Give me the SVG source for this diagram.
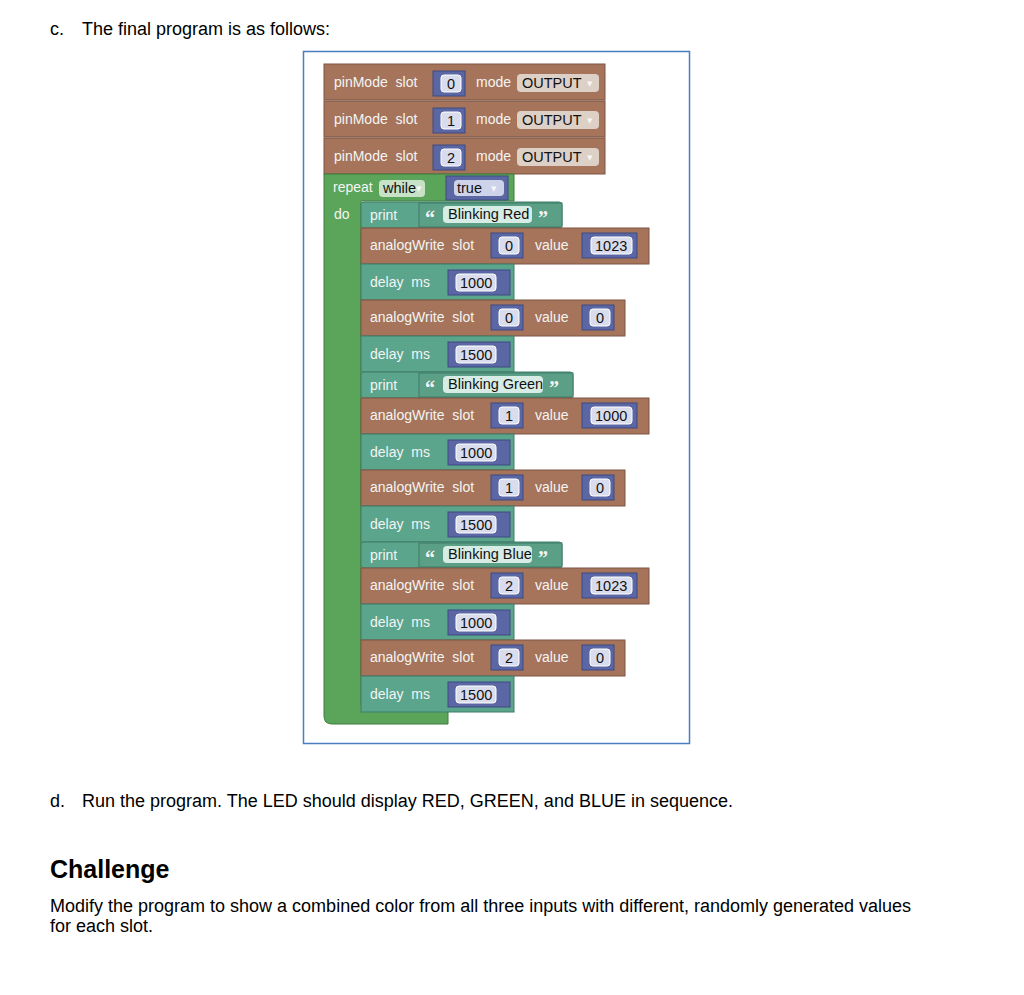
<svg xmlns="http://www.w3.org/2000/svg" width="1024" height="995" viewBox="0 0 1024 995">
<style>
.doc{font-family:"Liberation Sans",Arial,sans-serif;font-size:18px;fill:#000}
.h{font-family:"Liberation Sans",Arial,sans-serif;font-size:25px;font-weight:bold;fill:#000}
.b{font-family:"Liberation Sans",Arial,sans-serif;font-size:14px;fill:#f4f4f4;word-spacing:4px}
.q{font-family:"Liberation Serif",serif;font-size:20px;font-weight:bold;fill:#f4f4f4}
.f{font-family:"Liberation Sans",Arial,sans-serif;font-size:14.5px;fill:#111}
.br{fill:#a5745b;stroke:#7d5544;stroke-width:1}
.tl{fill:#5ba58c;stroke:#3f7d68;stroke-width:1}
.tl2{fill:#5a9f86;stroke:#3f7d68;stroke-width:1}
.gr{fill:#5ba55b;stroke:#3f7d3f;stroke-width:1}
.bl{fill:#5b67a5;stroke:#3f4a80;stroke-width:1}
.fd{fill:#d9dcec;stroke:#ffffff;stroke-width:1}
.fw{fill:#ddd0c6}
.fg{fill:#c8e2c8}
.fb{fill:#ced3ea}
.ft{fill:#d7ece4}
.tri{fill:#ffffff;opacity:.8;font-family:"DejaVu Sans",sans-serif;font-size:7px}
</style>
<rect width="1024" height="995" fill="#fff"/>
<text class="doc" x="50" y="35">c.</text><text class="doc" x="82" y="35">The final program is as follows:</text>
<rect x="303.5" y="51.5" width="386" height="692" fill="#fff" stroke="#4a7cc0" stroke-width="1.5"/>

<g id="pinmodes">
<g id="pin0"><rect class="br" x="324" y="64" width="281" height="36"/>
<text class="b" x="334" y="87">pinMode slot</text><rect class="bl" x="433" y="71" width="32" height="25"/><rect class="fd" x="441" y="75" width="20" height="17" rx="3"/><text class="f" x="447" y="89">0</text>
<text class="b" x="476" y="87">mode</text><rect class="fw" x="517" y="74" width="82" height="18" rx="4"/><text class="f" x="522" y="88">OUTPUT</text><text class="tri" x="587" y="86">▼</text></g>
<g id="pin1"><rect class="br" x="324" y="101" width="281" height="36"/>
<text class="b" x="334" y="124">pinMode slot</text><rect class="bl" x="433" y="108" width="32" height="25"/><rect class="fd" x="441" y="112" width="20" height="17" rx="3"/><text class="f" x="447" y="126">1</text>
<text class="b" x="476" y="124">mode</text><rect class="fw" x="517" y="111" width="82" height="18" rx="4"/><text class="f" x="522" y="125">OUTPUT</text><text class="tri" x="587" y="123">▼</text></g>
<g id="pin2"><rect class="br" x="324" y="138" width="281" height="36"/>
<text class="b" x="334" y="161">pinMode slot</text><rect class="bl" x="433" y="145" width="32" height="25"/><rect class="fd" x="441" y="149" width="20" height="17" rx="3"/><text class="f" x="447" y="163">2</text>
<text class="b" x="476" y="161">mode</text><rect class="fw" x="517" y="148" width="82" height="18" rx="4"/><text class="f" x="522" y="162">OUTPUT</text><text class="tri" x="587" y="160">▼</text></g>
</g>

<g id="repeat">
<path class="gr" d="M324 174 H514 V201 H361 V705 H448 V724 H332 Q324 724 324 716 Z"/>
<text class="b" x="333" y="192">repeat</text>
<rect class="fg" x="379" y="180" width="46" height="17" rx="4"/><text class="f" x="383" y="193">while</text><text class="tri" x="416" y="191">▼</text>
<rect class="bl" x="446" y="176" width="62" height="24"/><rect class="fb" x="454" y="180" width="50" height="16" rx="4"/><text class="f" x="457" y="193">true</text><text class="tri" x="491" y="191">▼</text>
<text class="b" x="334" y="219">do</text>
</g>

<g id="body">
<g id="print-red"><rect class="tl" x="361" y="202" width="201" height="26" rx="3"/><text class="b" x="370" y="220">print</text><rect class="tl2" x="419" y="203" width="143" height="24"/><text class="q" x="425" y="225">“</text><rect class="ft" x="443" y="206" width="89" height="17" rx="4"/><text class="f" x="448" y="219">Blinking Red</text><text class="q" x="538" y="225">”</text></g>

<g id="aw1"><rect class="br" x="361" y="228" width="288" height="36"/><text class="b" x="370" y="250">analogWrite slot</text><rect class="bl" x="491" y="233" width="32" height="25"/><rect class="fd" x="499" y="237" width="20" height="17" rx="3"/><text class="f" x="505" y="251">0</text><text class="b" x="535" y="250">value</text><rect class="bl" x="582" y="233" width="55" height="25"/><rect class="fd" x="591" y="237" width="41" height="17" rx="3"/><text class="f" x="595" y="251">1023</text></g>
<g id="d1"><rect class="tl" x="361" y="264" width="153" height="36"/><text class="b" x="370" y="287">delay ms</text><rect class="bl" x="448" y="270" width="62" height="25"/><rect class="fd" x="456" y="274" width="40" height="17" rx="3"/><text class="f" x="460" y="288">1000</text></g>
<g id="aw2"><rect class="br" x="361" y="300" width="264" height="36"/><text class="b" x="370" y="322">analogWrite slot</text><rect class="bl" x="491" y="305" width="32" height="25"/><rect class="fd" x="499" y="309" width="20" height="17" rx="3"/><text class="f" x="505" y="323">0</text><text class="b" x="535" y="322">value</text><rect class="bl" x="582" y="305" width="32" height="25"/><rect class="fd" x="590" y="309" width="20" height="17" rx="3"/><text class="f" x="596" y="323">0</text></g>
<g id="d2"><rect class="tl" x="361" y="336" width="153" height="36"/><text class="b" x="370" y="359">delay ms</text><rect class="bl" x="448" y="342" width="62" height="25"/><rect class="fd" x="456" y="346" width="40" height="17" rx="3"/><text class="f" x="460" y="360">1500</text></g>

<g id="print-green"><rect class="tl" x="361" y="372" width="212" height="26" rx="3"/><text class="b" x="370" y="390">print</text><rect class="tl2" x="419" y="373" width="154" height="24"/><text class="q" x="425" y="395">“</text><rect class="ft" x="443" y="376" width="100" height="17" rx="4"/><text class="f" x="448" y="389">Blinking Green</text><text class="q" x="549" y="395">”</text></g>

<g id="aw3"><rect class="br" x="361" y="398" width="288" height="36"/><text class="b" x="370" y="420">analogWrite slot</text><rect class="bl" x="491" y="403" width="32" height="25"/><rect class="fd" x="499" y="407" width="20" height="17" rx="3"/><text class="f" x="505" y="421">1</text><text class="b" x="535" y="420">value</text><rect class="bl" x="582" y="403" width="55" height="25"/><rect class="fd" x="591" y="407" width="41" height="17" rx="3"/><text class="f" x="595" y="421">1000</text></g>
<g id="d3"><rect class="tl" x="361" y="434" width="153" height="36"/><text class="b" x="370" y="457">delay ms</text><rect class="bl" x="448" y="440" width="62" height="25"/><rect class="fd" x="456" y="444" width="40" height="17" rx="3"/><text class="f" x="460" y="458">1000</text></g>
<g id="aw4"><rect class="br" x="361" y="470" width="264" height="36"/><text class="b" x="370" y="492">analogWrite slot</text><rect class="bl" x="491" y="475" width="32" height="25"/><rect class="fd" x="499" y="479" width="20" height="17" rx="3"/><text class="f" x="505" y="493">1</text><text class="b" x="535" y="492">value</text><rect class="bl" x="582" y="475" width="32" height="25"/><rect class="fd" x="590" y="479" width="20" height="17" rx="3"/><text class="f" x="596" y="493">0</text></g>
<g id="d4"><rect class="tl" x="361" y="506" width="153" height="36"/><text class="b" x="370" y="529">delay ms</text><rect class="bl" x="448" y="512" width="62" height="25"/><rect class="fd" x="456" y="516" width="40" height="17" rx="3"/><text class="f" x="460" y="530">1500</text></g>

<g id="print-blue"><rect class="tl" x="361" y="542" width="201" height="26" rx="3"/><text class="b" x="370" y="560">print</text><rect class="tl2" x="419" y="543" width="143" height="24"/><text class="q" x="425" y="565">“</text><rect class="ft" x="443" y="546" width="89" height="17" rx="4"/><text class="f" x="448" y="559">Blinking Blue</text><text class="q" x="538" y="565">”</text></g>

<g id="aw5"><rect class="br" x="361" y="568" width="288" height="36"/><text class="b" x="370" y="590">analogWrite slot</text><rect class="bl" x="491" y="573" width="32" height="25"/><rect class="fd" x="499" y="577" width="20" height="17" rx="3"/><text class="f" x="505" y="591">2</text><text class="b" x="535" y="590">value</text><rect class="bl" x="582" y="573" width="55" height="25"/><rect class="fd" x="591" y="577" width="41" height="17" rx="3"/><text class="f" x="595" y="591">1023</text></g>
<g id="d5"><rect class="tl" x="361" y="604" width="153" height="36"/><text class="b" x="370" y="627">delay ms</text><rect class="bl" x="448" y="610" width="62" height="25"/><rect class="fd" x="456" y="614" width="40" height="17" rx="3"/><text class="f" x="460" y="628">1000</text></g>
<g id="aw6"><rect class="br" x="361" y="640" width="264" height="36"/><text class="b" x="370" y="662">analogWrite slot</text><rect class="bl" x="491" y="645" width="32" height="25"/><rect class="fd" x="499" y="649" width="20" height="17" rx="3"/><text class="f" x="505" y="663">2</text><text class="b" x="535" y="662">value</text><rect class="bl" x="582" y="645" width="32" height="25"/><rect class="fd" x="590" y="649" width="20" height="17" rx="3"/><text class="f" x="596" y="663">0</text></g>
<g id="d6"><rect class="tl" x="361" y="676" width="153" height="36"/><text class="b" x="370" y="699">delay ms</text><rect class="bl" x="448" y="682" width="62" height="25"/><rect class="fd" x="456" y="686" width="40" height="17" rx="3"/><text class="f" x="460" y="700">1500</text></g>
</g>

<text class="doc" x="50" y="807">d.</text><text class="doc" x="82" y="807">Run the program. The LED should display RED, GREEN, and BLUE in sequence.</text>
<text class="h" x="50" y="878">Challenge</text>
<text class="doc" x="50" y="912">Modify the program to show a combined color from all three inputs with different, randomly generated values</text>
<text class="doc" x="50" y="932">for each slot.</text>
</svg>
